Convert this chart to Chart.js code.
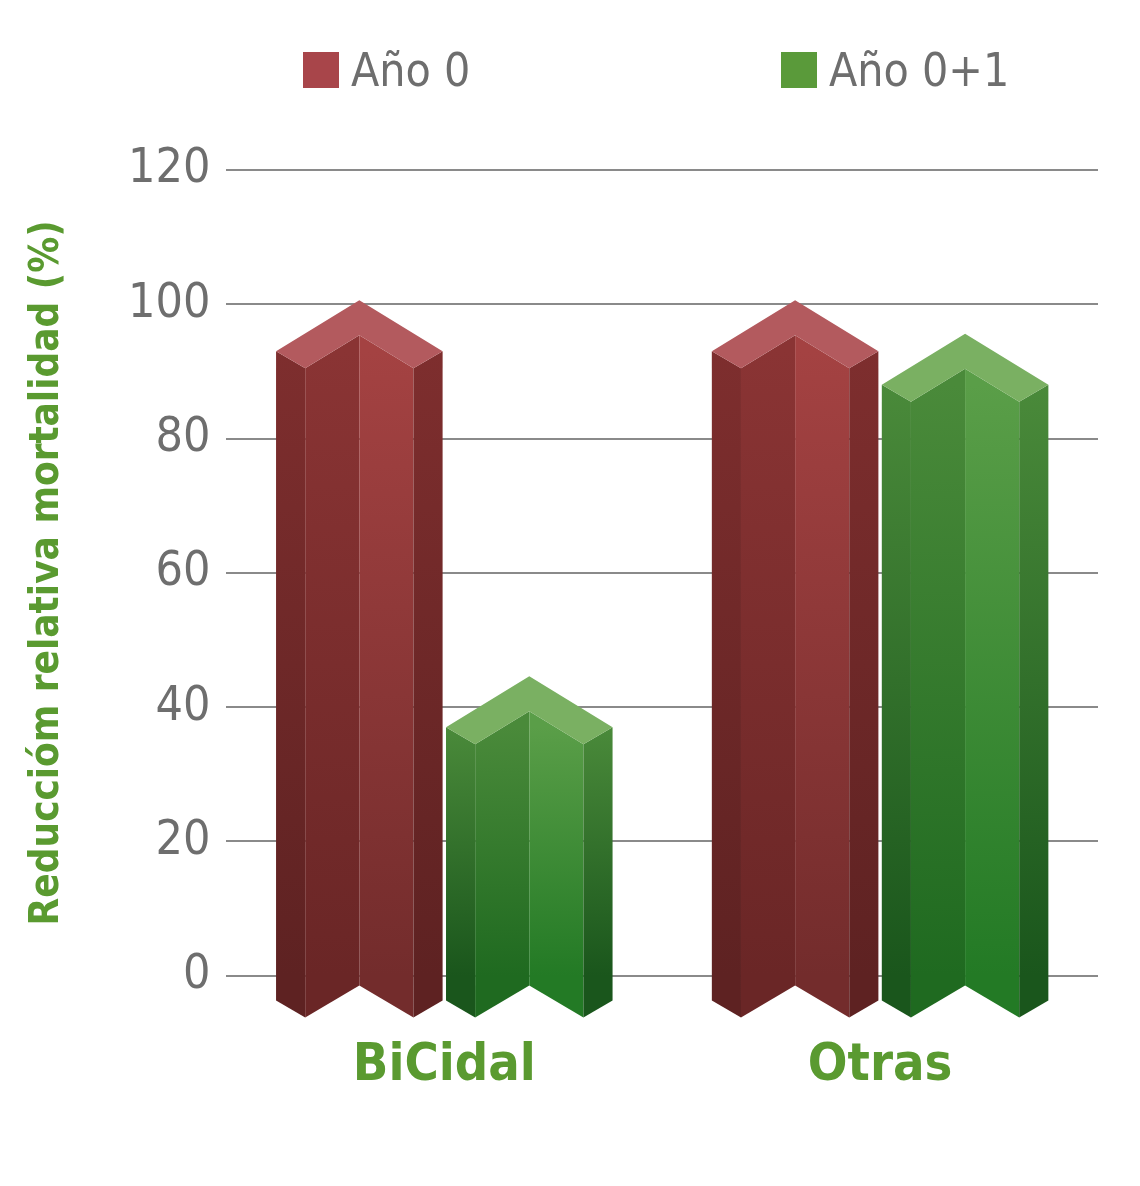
<!DOCTYPE html>
<html><head><meta charset="utf-8">
<script src="https://cdn.jsdelivr.net/npm/chart.js@4"></script>
<style>html,body{margin:0;background:#fff}#w{position:relative;width:1140px;height:1186px}
#lg{position:absolute;top:40px;left:0;width:1140px;font-family:'DejaVu Sans Condensed','DejaVu Sans';font-size:46px;color:#6e6e6e}
.it{position:absolute;top:0;display:flex;align-items:center;height:60px}
.bx{width:36px;height:36px;margin-right:12px}</style>
</head><body><div id="w"><canvas id="c"></canvas>
<div id="lg"></div></div>
<script>
const categories = ['BiCidal', 'Otras'];
const seriesNames = ['Año 0', 'Año 0+1'];
const seriesColors = ['#a8454a', '#5a9a3a'];
const ano0 = [93, 93];
const ano01 = [37, 88];
const yTicks = [0, 20, 40, 60, 80, 100, 120];

const lg=document.getElementById('lg');
[303,781].forEach((x,i)=>{const d=document.createElement('div');d.className='it';d.style.left=x+'px';
  d.innerHTML='<span class="bx" style="background:'+seriesColors[i]+'"></span><span>'+seriesNames[i]+'</span>';lg.appendChild(d);});

const palettes = [
  {top:'#b35a5e', side:['#7e2e2e','#5e2222'], fl:['#8a3434','#6a2626'], fr:['#a44242','#732c2c']},
  {top:'#7ab062', side:['#4a8a3a','#1a561c'], fl:['#4a8a3a','#1f6a20'], fr:['#5a9e48','#237a25']}
];
function grad(ctx, y0, y1, c){const g=ctx.createLinearGradient(0,y0,0,y1);g.addColorStop(0,c[0]);g.addColorStop(1,c[1]);return g;}
function poly(ctx, pts, fill){ctx.beginPath();ctx.moveTo(pts[0][0],pts[0][1]);for(let i=1;i<pts.length;i++)ctx.lineTo(pts[i][0],pts[i][1]);ctx.closePath();ctx.fillStyle=fill;ctx.fill();}

const prism = {
  id:'prism',
  beforeDatasetDraw(chart, args){
    const ctx=chart.ctx, meta=args.meta, p=palettes[args.index];
    const base=chart.scales.y.getPixelForValue(0);
    ctx.save();
    meta.data.forEach(b=>{
      const w=b.width, L=b.x-w/2, R=b.x+w/2, M=b.x, s=w*0.175, y=b.y;
      const Li=L+s, Ri=R-s;
      poly(ctx,[[L,y],[Li,y+17],[Li,base+42],[L,base+25]],grad(ctx,y,base,p.side));
      poly(ctx,[[Li,y+17],[M,y-16],[M,base+10],[Li,base+42]],grad(ctx,y,base,p.fl));
      poly(ctx,[[M,y-16],[Ri,y+17],[Ri,base+42],[M,base+10]],grad(ctx,y,base,p.fr));
      poly(ctx,[[Ri,y+17],[R,y],[R,base+25],[Ri,base+42]],grad(ctx,y,base,p.side));
      poly(ctx,[[L,y],[M,y-51],[R,y],[Ri,y+17],[M,y-16],[Li,y+17]],p.top);
    });
    ctx.restore();
    return false;
  }
};
const F='DejaVu Sans Condensed, DejaVu Sans';
new Chart(document.getElementById('c'),{
  type:'bar',
  data:{labels:categories,datasets:[
    {label:seriesNames[0],data:ano0,backgroundColor:seriesColors[0]},
    {label:seriesNames[1],data:ano01,backgroundColor:seriesColors[1]}
  ]},
  options:{
    responsive:true,maintainAspectRatio:false,animation:false,
    layout:{padding:{left:20,right:42,top:170,bottom:36}},
    datasets:{bar:{categoryPercentage:0.78,barPercentage:0.98}},
    plugins:{tooltip:{enabled:false},legend:{display:false}},
    scales:{
      y:{min:0,max:120,afterBuildTicks(ax){ax.ticks=yTicks.map(v=>({value:v}));},
        border:{display:false},grid:{color:'#8a8a8a',lineWidth:2,drawTicks:false},
        ticks:{padding:16,color:'#6e6e6e',font:{family:F,size:48}},
        title:{display:true,text:'Reduccióm relativa mortalidad (%)',color:'#5a9a30',
          font:{family:F,size:40,weight:'bold'},padding:{bottom:40}}},
      x:{border:{display:false},grid:{display:false},
        ticks:{padding:52,color:'#5a9a30',font:{family:F,size:52,weight:'bold'}}}
    }
  },
  plugins:[prism]
});
</script></body></html>
